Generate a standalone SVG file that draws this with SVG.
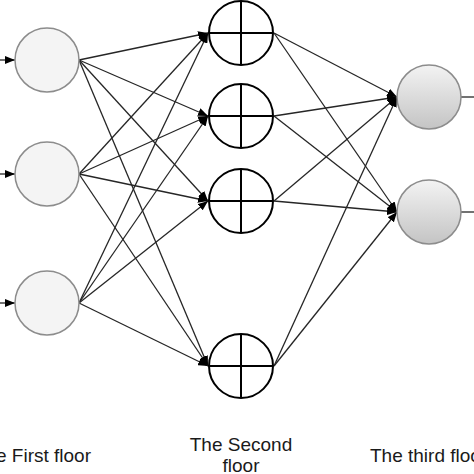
<svg xmlns="http://www.w3.org/2000/svg" width="474" height="474" viewBox="0 0 474 474">
<style>
.edge{stroke:#262626;stroke-width:1.3;fill:none}
.in{fill:#f4f4f4;stroke:#8c8c8c;stroke-width:1.5}
.out{fill:url(#g);stroke:#8c8c8c;stroke-width:1.5}
.sum{fill:#fff;stroke:#000;stroke-width:2}
.cross{stroke:#000;stroke-width:2}
.lbl{font-family:"Liberation Sans",Arial,sans-serif;font-size:19px;fill:#1a1a1a}
</style>
<defs>
<linearGradient id="g" x1="0" y1="0" x2="0" y2="1">
<stop offset="0" stop-color="#f3f3f3"/>
<stop offset="1" stop-color="#c4c4c4"/>
</linearGradient>
<marker id="a" markerUnits="userSpaceOnUse" markerWidth="10" markerHeight="8" refX="10" refY="4" orient="auto">
<path d="M0,0 L10,4 L0,8 z" fill="#000"/>
</marker>
</defs>
<g id="connectors">
<line class="edge" x1="0" y1="60" x2="15" y2="60" marker-end="url(#a)"/>
<line class="edge" x1="0" y1="174" x2="15" y2="174" marker-end="url(#a)"/>
<line class="edge" x1="0" y1="303" x2="15" y2="303" marker-end="url(#a)"/>
<line class="edge" x1="79" y1="60" x2="208" y2="33" marker-end="url(#a)"/>
<line class="edge" x1="79" y1="60" x2="208" y2="116" marker-end="url(#a)"/>
<line class="edge" x1="79" y1="60" x2="208" y2="201" marker-end="url(#a)"/>
<line class="edge" x1="79" y1="60" x2="208" y2="366" marker-end="url(#a)"/>
<line class="edge" x1="79" y1="174" x2="208" y2="33" marker-end="url(#a)"/>
<line class="edge" x1="79" y1="174" x2="208" y2="116" marker-end="url(#a)"/>
<line class="edge" x1="79" y1="174" x2="208" y2="201" marker-end="url(#a)"/>
<line class="edge" x1="79" y1="174" x2="208" y2="366" marker-end="url(#a)"/>
<line class="edge" x1="79" y1="303" x2="208" y2="33" marker-end="url(#a)"/>
<line class="edge" x1="79" y1="303" x2="208" y2="116" marker-end="url(#a)"/>
<line class="edge" x1="79" y1="303" x2="208" y2="201" marker-end="url(#a)"/>
<line class="edge" x1="79" y1="303" x2="208" y2="366" marker-end="url(#a)"/>
<line class="edge" x1="274" y1="33" x2="397" y2="97" marker-end="url(#a)"/>
<line class="edge" x1="274" y1="33" x2="397" y2="212" marker-end="url(#a)"/>
<line class="edge" x1="274" y1="116" x2="397" y2="97" marker-end="url(#a)"/>
<line class="edge" x1="274" y1="116" x2="397" y2="212" marker-end="url(#a)"/>
<line class="edge" x1="274" y1="201" x2="397" y2="97" marker-end="url(#a)"/>
<line class="edge" x1="274" y1="201" x2="397" y2="212" marker-end="url(#a)"/>
<line class="edge" x1="274" y1="366" x2="397" y2="97" marker-end="url(#a)"/>
<line class="edge" x1="274" y1="366" x2="397" y2="212" marker-end="url(#a)"/>
<line class="edge" x1="461" y1="97" x2="474" y2="97"/>
<line class="edge" x1="461" y1="212" x2="474" y2="212"/>
</g>
<g id="in1"><circle class="in" cx="47" cy="60" r="32"/></g>
<g id="in2"><circle class="in" cx="47" cy="174" r="32"/></g>
<g id="in3"><circle class="in" cx="47" cy="303" r="32"/></g>
<g id="sum1"><circle class="sum" cx="241" cy="33" r="32"/><line class="cross" x1="209" y1="33" x2="273" y2="33"/><line class="cross" x1="241" y1="1" x2="241" y2="65"/></g>
<g id="sum2"><circle class="sum" cx="241" cy="116" r="32"/><line class="cross" x1="209" y1="116" x2="273" y2="116"/><line class="cross" x1="241" y1="84" x2="241" y2="148"/></g>
<g id="sum3"><circle class="sum" cx="241" cy="201" r="32"/><line class="cross" x1="209" y1="201" x2="273" y2="201"/><line class="cross" x1="241" y1="169" x2="241" y2="233"/></g>
<g id="sum4"><circle class="sum" cx="241" cy="366" r="32"/><line class="cross" x1="209" y1="366" x2="273" y2="366"/><line class="cross" x1="241" y1="334" x2="241" y2="398"/></g>
<g id="out1"><circle class="out" cx="429" cy="97" r="32"/></g>
<g id="out2"><circle class="out" cx="429" cy="212" r="32"/></g>
<g id="labels">
<text class="lbl" x="91" y="462" text-anchor="end">The First floor</text>
<text class="lbl" x="241" y="451" text-anchor="middle">The Second</text>
<text class="lbl" x="241" y="472" text-anchor="middle">floor</text>
<text class="lbl" x="370" y="462">The third floor</text>
</g>
</svg>
